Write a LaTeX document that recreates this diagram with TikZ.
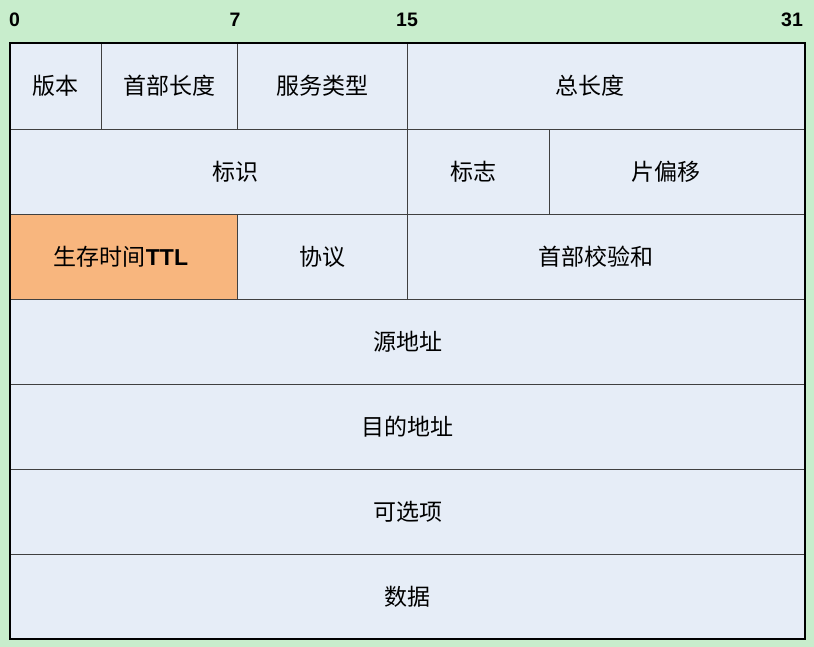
\documentclass[tikz,border=0pt]{standalone}
\usepackage{fontspec}
\setmainfont{Liberation Sans}
\newfontfamily\cjk{Noto Sans CJK SC}
\usepackage{tikz}
\usepackage{xcolor}
\usetikzlibrary{positioning}

\definecolor{bggreen}{RGB}{200,237,204}
\definecolor{cellblue}{RGB}{230,237,247}
\definecolor{ttlorange}{RGB}{248,182,126}

\tikzset{
  cell/.style={rectangle, draw=black!75, line width=0.8pt, fill=cellblue, inner sep=0pt,
    font=\cjk\fontsize{23}{23}\selectfont},
  bitno/.style={anchor=base, font=\bfseries\fontsize{19.5}{19.5}\selectfont}
}

\begin{document}
\begin{tikzpicture}[x=1pt, y=-1pt]
                    \fill[bggreen] (0,0) rectangle (814,647);
                    \useasboundingbox (0,0) rectangle (814,647);

                    % bit numbers
                    \node[bitno] (bit0) at (14.5,27) {0};
                    \node[bitno] (bit7) at (235,27) {7};
                    \node[bitno] (bit15) at (407,27) {15};
                    \node[bitno] (bit31) at (792,27) {31};

                    % first word
                    \node[cell, minimum width=91pt, minimum height=86pt] (version) at (55.5,86) {版本};
                    \node[cell, minimum width=136pt, minimum height=86pt] (hlen) at (169,86) {首部长度};
                    \node[cell, minimum width=170pt, minimum height=86pt] (tos) at (322,86) {服务类型};
                    \node[cell, minimum width=398pt, minimum height=86pt] (totlen) at (606,86) {总长度\hspace*{32pt}};

                    % second word
                    \node[cell, minimum width=397pt, minimum height=85pt] (ident) at (208.5,171.5) {\hspace*{53pt}标识};
                    \node[cell, minimum width=142pt, minimum height=85pt] (flags) at (478,171.5) {标志\hspace*{10pt}};
                    \node[cell, minimum width=256pt, minimum height=85pt] (offset) at (677,171.5) {片偏移\hspace*{22pt}};

                    % third word
                    \node[cell, fill=ttlorange, minimum width=227pt, minimum height=85pt] (ttl) at (123.5,256.5) {生存时间{\rmfamily\bfseries TTL}\hspace*{5pt}};
                    \node[cell, minimum width=170pt, minimum height=85pt] (proto) at (322,256.5) {协议};
                    \node[cell, minimum width=398pt, minimum height=85pt] (cksum) at (606,256.5) {首部校验和\hspace*{20pt}};

                    % full-width rows
                    \node[cell, minimum width=795pt, minimum height=85pt] (src) at (407.5,341.5) {源地址};
                    \node[cell, minimum width=795pt, minimum height=85pt] (dst) at (407.5,426.5) {目的地址};
                    \node[cell, minimum width=795pt, minimum height=85pt] (opts) at (407.5,511.5) {可选项};
                    \node[cell, minimum width=795pt, minimum height=85pt] (data) at (407.5,596.5) {数据};

                    \draw[line width=2pt]
                    (version.north west) rectangle (data.south east);
                \end{tikzpicture}
\end{document}
